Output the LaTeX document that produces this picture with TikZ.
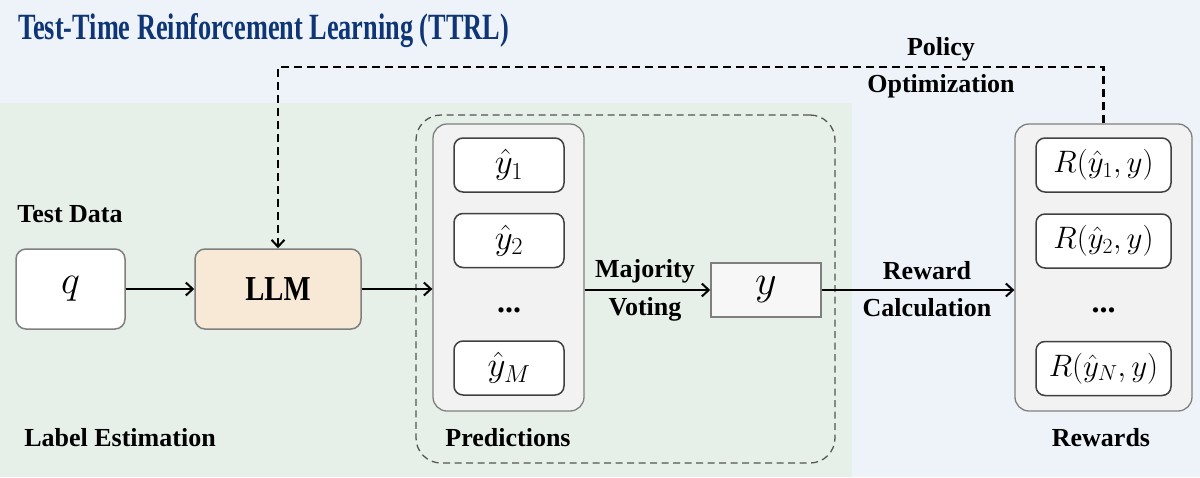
\RequirePackage{fix-cm}
\documentclass[tikz,border=0pt]{standalone}
\usepackage{fontspec}
\setmainfont{Liberation Serif}
\usetikzlibrary{arrows.meta}
\definecolor{bgblue}{HTML}{EEF3FA}
\definecolor{bggreen}{HTML}{E6F0E8}
\definecolor{titleblue}{HTML}{0E3575}
\definecolor{llmfill}{HTML}{F8E9D7}
\definecolor{outerfill}{HTML}{F2F2F2}
\definecolor{boxgray}{HTML}{7F7F7F}
\definecolor{innerdraw}{HTML}{404040}
\definecolor{ybfill}{HTML}{F6F7F6}
\definecolor{dashgray}{HTML}{555555}
\begin{document}
\begin{tikzpicture}[x=1pt,y=-1pt,
  lbl/.style={font=\fontsize{26}{30}\selectfont\bfseries, inner sep=0pt, anchor=base},
  outerbox/.style={draw=boxgray, line width=1.3pt, fill=outerfill, rounded corners=14pt, inner sep=0pt},
  mainbox/.style={draw=boxgray, line width=1.5pt, rounded corners=10pt, minimum height=80pt, inner sep=0pt},
  innerbox/.style={draw=innerdraw, line width=1.5pt, fill=white, rounded corners=9pt, minimum height=54pt, inner sep=0pt, font=\fontsize{35}{38}\selectfont},
  dotsl/.style={font=\fontsize{32}{36}\selectfont\bfseries, inner sep=0pt, anchor=base},
  arr/.style={line width=2.2pt, -{Straight Barb[length=7pt,width=13pt,line width=2pt]}},
  dasharr/.style={line width=2.2pt, dash pattern=on 8pt off 5pt, -{Straight Barb[length=7pt,width=13pt,line width=2pt]}}
]
\fill[bgblue] (0,0) rectangle (1200,477);
\fill[bggreen] (0,103) rectangle (852,477);
\useasboundingbox (0,0) rectangle (1200,477);

% title
\node[anchor=base west, inner sep=0pt, text=titleblue, font=\fontsize{37}{40}\selectfont\bfseries] (title) at (18,39) {\scalebox{0.71}[1]{Test-Time Reinforcement Learning (TTRL)}};

% group container
\node[draw=dashgray, line width=1.3pt, dash pattern=on 7pt off 4.5pt, rounded corners=25pt, minimum width=419pt, minimum height=348pt, inner sep=0pt] (grp) at (625.5,289) {};

% main boxes
\node[mainbox, fill=white, minimum width=109pt, font=\fontsize{40}{44}\selectfont] (q) at (70.5,289) {$q$};
\node[mainbox, fill=llmfill, minimum width=166pt, font=\fontsize{35}{40}\selectfont\bfseries] (llm) at (278,289) {\scalebox{0.82}[1]{LLM}};

% predictions
\node[outerbox, minimum width=151pt, minimum height=287pt] (pred) at (508.5,267.5) {};
\node[innerbox, minimum width=110pt] (p1) at (509,165) {$\hat{y}_1$};
\node[innerbox, minimum width=110pt] (p2) at (509,240.5) {$\hat{y}_2$};
\node[dotsl] (pd) at (509,312) {...};
\node[innerbox, minimum width=110pt] (pm) at (509,368) {$\hat{y}_M$};

% y box
\node[draw=boxgray, line width=1.5pt, fill=ybfill, minimum width=110pt, minimum height=54pt, inner sep=0pt, font=\fontsize{42}{46}\selectfont] (yb) at (766,290) {$y$};

% rewards
\node[outerbox, minimum width=177pt, minimum height=287pt] (rew) at (1103.5,267.5) {};
\node[innerbox, minimum width=135pt, font=\fontsize{31}{34}\selectfont] (r1) at (1103.5,165) {$R(\hat{y}_1,y)$};
\node[innerbox, minimum width=135pt, font=\fontsize{31}{34}\selectfont] (r2) at (1103.5,241) {$R(\hat{y}_2,y)$};
\node[dotsl] (rd) at (1103.5,312) {...};
\node[innerbox, minimum width=135pt, font=\fontsize{31}{34}\selectfont] (rn) at (1103.5,368.5) {$R(\hat{y}_N,y)$};

% labels
\node[lbl] (testdata) at (70,222) {Test Data};
\node[lbl] (labelest) at (120,446) {Label Estimation};
\node[lbl] (predlbl) at (508,446) {Predictions};
\node[lbl] (rewlbl) at (1101,446) {Rewards};
\node[lbl] (maj) at (645,277) {Majority};
\node[lbl] (vot) at (645,315) {Voting};
\node[lbl] (rwd) at (927,279) {Reward};
\node[lbl] (calc) at (927,316) {Calculation};
\node[lbl] (pol) at (941,55) {Policy};
\node[lbl] (opt) at (941,92) {Optimization};

% connectors
\draw[arr] (q.east) -- (llm.west);
\draw[arr] (llm.east) -- (llm.east -| pred.west);
\draw[arr] (pred.east |- yb.west) -- (yb.west);
\draw[arr] (yb.east) -- (yb.east -| rew.west);
\coordinate (topline) at (0,67);
\draw[dasharr] (rew.north) -- (rew.north |- topline) -| (llm.north);
\end{tikzpicture}
\end{document}
